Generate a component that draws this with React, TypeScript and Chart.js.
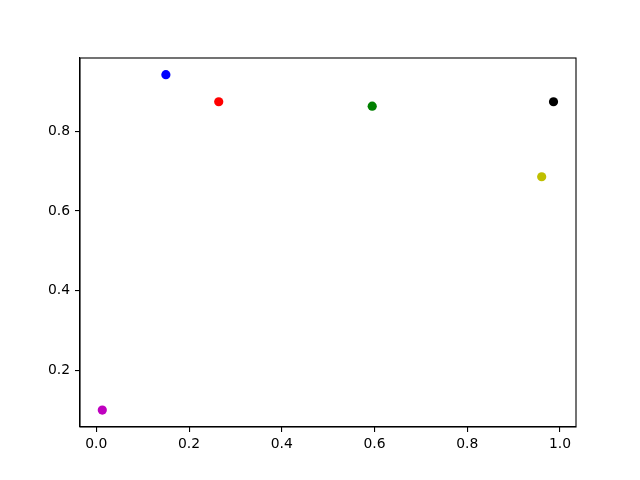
import React, { useEffect, useRef } from "react";
import { Chart, registerables } from "chart.js";

Chart.register(...registerables);

const xValues = [0.150, 0.264, 0.595, 0.986, 0.9605, 0.0129];
const yValues = [0.942, 0.874, 0.863, 0.874, 0.686, 0.101];
const pointColors = ["#0000ff", "#ff0000", "#008000", "#000000", "#bfbf00", "#bf00bf"];
const xTicks = [0.0, 0.2, 0.4, 0.6, 0.8, 1.0];
const yTicks = [0.2, 0.4, 0.6, 0.8];

const frame = {
  id: "frame",
  afterDraw(chart: any) {
    const { ctx, chartArea } = chart;
    ctx.save();
    ctx.strokeStyle = "#000";
    ctx.lineWidth = 1.1;
    ctx.strokeRect(chartArea.left, chartArea.top, chartArea.right - chartArea.left, chartArea.bottom - chartArea.top);
    ctx.restore();
  },
};

export default function App() {
  const ref = useRef<HTMLCanvasElement>(null);
  useEffect(() => {
    document.body.style.margin = "0";
    const points = xValues.map((x, i) => ({ x, y: yValues[i] }));
    const font = { family: "DejaVu Sans", size: 13.9 };
    const chart = new Chart(ref.current!, {
      type: "scatter",
      data: {
        datasets: [
          {
            data: points,
            backgroundColor: pointColors,
            borderColor: pointColors,
            borderWidth: 0,
            pointRadius: 4.6,
            pointHoverRadius: 4.6,
          },
        ],
      },
      options: {
        animation: false,
        responsive: false,
        devicePixelRatio: 1,
        layout: { padding: { top: 58, right: 64, left: 0, bottom: 0 } },
        plugins: { legend: { display: false }, tooltip: { enabled: false } },
        scales: {
          x: {
            type: "linear",
            min: -0.0352,
            max: 1.0345,
            afterBuildTicks: (s: any) => {
              s.ticks = xTicks.map((v) => ({ value: v }));
            },
            afterFit: (s: any) => {
              s.height = 53;
            },
            grid: { display: true, drawOnChartArea: false, drawTicks: true, tickLength: 5, color: "#000", lineWidth: 1.1 },
            border: { display: true, color: "#000", width: 1.1 },
            ticks: {
              color: "#000",
              font,
              padding: 4,
              maxRotation: 0,
              autoSkip: false,
              callback: (v: any) => Number(v).toFixed(1),
            },
          },
          y: {
            type: "linear",
            min: 0.0586,
            max: 0.9837,
            afterBuildTicks: (s: any) => {
              s.ticks = yTicks.map((v) => ({ value: v }));
            },
            afterFit: (s: any) => {
              s.width = 80;
            },
            grid: { display: true, drawOnChartArea: false, drawTicks: true, tickLength: 5, color: "#000", lineWidth: 1.1 },
            border: { display: true, color: "#000", width: 1.1 },
            ticks: {
              color: "#000",
              font,
              padding: 5,
              autoSkip: false,
              callback: (v: any) => Number(v).toFixed(1),
            },
          },
        },
      },
      plugins: [frame],
    });
    return () => chart.destroy();
  }, []);
  return (
    <div style={{ position: "fixed", left: 0, top: 0, width: 640, height: 480, background: "#fff" }}>
      <canvas ref={ref} width={640} height={480} />
    </div>
  );
}
